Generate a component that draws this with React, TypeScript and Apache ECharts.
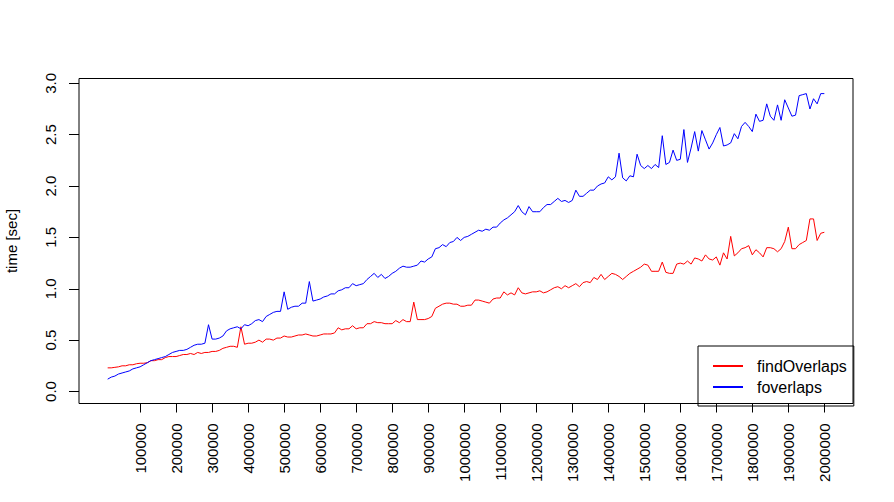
import React, { useEffect, useRef } from 'react';
import * as echarts from 'echarts';

// input sizes: 10000 .. 2000000 in steps of 10000
const sizes: number[] = Array.from({ length: 200 }, (_, i) => (i + 1) * 10000);

const findOverlaps: number[] = [
  0.23, 0.23, 0.235, 0.24, 0.25, 0.25, 0.26, 0.26, 0.27, 0.275,
  0.275, 0.28, 0.3, 0.3, 0.31, 0.31, 0.33, 0.34, 0.34, 0.34,
  0.35, 0.36, 0.36, 0.37, 0.36, 0.38, 0.37, 0.38, 0.38, 0.39,
  0.39, 0.4, 0.42, 0.43, 0.44, 0.44, 0.43, 0.63, 0.46, 0.47,
  0.47, 0.48, 0.5, 0.48, 0.51, 0.51, 0.5, 0.52, 0.52, 0.54,
  0.53, 0.53, 0.54, 0.55, 0.55, 0.56, 0.55, 0.54, 0.54, 0.55,
  0.56, 0.56, 0.56, 0.57, 0.62, 0.6, 0.61, 0.61, 0.64, 0.61,
  0.62, 0.62, 0.66, 0.66, 0.68, 0.67, 0.67, 0.66, 0.66, 0.66,
  0.69, 0.67, 0.7, 0.68, 0.68, 0.87, 0.7, 0.7, 0.7, 0.71,
  0.73, 0.81, 0.83, 0.85, 0.86, 0.86, 0.85, 0.85, 0.83, 0.83,
  0.84, 0.84, 0.89, 0.89, 0.88, 0.87, 0.86, 0.9, 0.91, 0.91,
  0.97, 0.94, 0.96, 0.94, 1.01, 0.96, 0.95, 0.96, 0.97, 0.97,
  0.98, 0.96, 0.97, 0.99, 1.01, 1.02, 1.0, 1.03, 1.01, 1.03,
  1.05, 1.02, 1.06, 1.07, 1.06, 1.11, 1.09, 1.14, 1.09, 1.12,
  1.15, 1.14, 1.12, 1.09, 1.12, 1.15, 1.17, 1.19, 1.21, 1.24,
  1.23, 1.17, 1.17, 1.17, 1.26, 1.16, 1.15, 1.15, 1.24, 1.25,
  1.24, 1.27, 1.24, 1.3, 1.29, 1.27, 1.33, 1.29, 1.28, 1.31,
  1.23, 1.35, 1.29, 1.51, 1.32, 1.35, 1.39, 1.4, 1.42, 1.33,
  1.38, 1.35, 1.31, 1.4, 1.4, 1.39, 1.36, 1.39, 1.46, 1.6,
  1.39, 1.39, 1.43, 1.45, 1.47, 1.68, 1.68, 1.47, 1.54, 1.55,
];

const foverlaps: number[] = [
  0.12, 0.14, 0.15, 0.17, 0.18, 0.19, 0.2, 0.22, 0.23, 0.24,
  0.26, 0.28, 0.3, 0.31, 0.32, 0.33, 0.34, 0.36, 0.38, 0.39,
  0.4, 0.4, 0.41, 0.43, 0.45, 0.46, 0.46, 0.47, 0.65, 0.51,
  0.51, 0.52, 0.54, 0.59, 0.61, 0.62, 0.63, 0.61, 0.65, 0.64,
  0.66, 0.69, 0.7, 0.68, 0.73, 0.75, 0.77, 0.78, 0.78, 0.97,
  0.8, 0.82, 0.83, 0.83, 0.86, 0.86, 1.07, 0.88, 0.89, 0.9,
  0.92, 0.93, 0.95, 0.95, 0.98, 0.99, 1.01, 1.01, 1.05, 1.03,
  1.04, 1.05, 1.09, 1.12, 1.15, 1.11, 1.14, 1.1, 1.12, 1.15,
  1.17, 1.2, 1.22, 1.21, 1.21, 1.22, 1.23, 1.27, 1.26, 1.29,
  1.31, 1.39, 1.4, 1.43, 1.41, 1.45, 1.46, 1.5, 1.47, 1.5,
  1.51, 1.53, 1.55, 1.57, 1.56, 1.58, 1.57, 1.6, 1.6, 1.64,
  1.67, 1.69, 1.72, 1.75, 1.81, 1.75, 1.72, 1.8, 1.75, 1.75,
  1.75, 1.79, 1.82, 1.82, 1.85, 1.88, 1.85, 1.86, 1.84, 1.86,
  1.96, 1.9, 1.9, 1.93, 1.96, 1.96, 2.0, 2.02, 2.03, 2.09,
  2.06, 2.09, 2.32, 2.08, 2.05, 2.1, 2.09, 2.31, 2.2, 2.17,
  2.2, 2.17, 2.21, 2.18, 2.49, 2.21, 2.23, 2.35, 2.25, 2.26,
  2.55, 2.23, 2.37, 2.53, 2.34, 2.54, 2.45, 2.36, 2.42, 2.5,
  2.57, 2.39, 2.4, 2.42, 2.51, 2.46, 2.58, 2.62, 2.58, 2.53,
  2.7, 2.63, 2.64, 2.8, 2.68, 2.64, 2.79, 2.64, 2.84, 2.76,
  2.68, 2.69, 2.88, 2.89, 2.9, 2.75, 2.85, 2.8, 2.9, 2.9,
];

const xTicks: number[] = [
  100000, 200000, 300000, 400000, 500000, 600000, 700000, 800000, 900000, 1000000,
  1100000, 1200000, 1300000, 1400000, 1500000, 1600000, 1700000, 1800000, 1900000, 2000000,
];
const yTicks: number[] = [0, 0.5, 1, 1.5, 2, 2.5, 3];

const FONT = '"Liberation Sans", Arial, Helvetica, sans-serif';

const App: React.FC = () => {
  const chartRef = useRef<HTMLDivElement>(null);

  useEffect(() => {
    document.body.style.margin = '0';
    if (!chartRef.current) return;
    const chart = echarts.init(chartRef.current, null, { renderer: 'svg' });

    const option = {
      animation: false,
      backgroundColor: '#fff',
      textStyle: { fontFamily: FONT },
      grid: {
        left: 79,
        top: 78.5,
        width: 774,
        height: 325,
        show: true,
        borderColor: '#000',
        borderWidth: 1,
        backgroundColor: 'transparent',
        outerBoundsMode: 'none',
        containLabel: false,
      },
      legend: {
        left: 698,
        top: 346,
        orient: 'vertical',
        borderColor: '#000',
        borderWidth: 1,
        borderRadius: 0,
        padding: [12, 7, 11, 15],
        itemWidth: 30,
        itemHeight: 2,
        itemGap: 5,
        icon: 'rect',
        textStyle: { fontSize: 16, color: '#000', fontFamily: FONT, padding: [0, 0, 0, 9], lineHeight: 14 },
        data: ['findOverlaps', 'foverlaps'],
      },
      xAxis: {
        type: 'value',
        min: -69600,
        max: 2079600,
        axisLine: { show: false, onZero: false },
        splitLine: { show: false },
        axisTick: {
          show: true,
          length: 9,
          customValues: xTicks,
          lineStyle: { color: '#000' },
        },
        axisLabel: {
          customValues: xTicks,
          rotate: 90,
          margin: 20,
          fontSize: 15,
          color: '#000',
          fontFamily: FONT,
          formatter: (v: number) => String(v),
        },
      },
      yAxis: {
        type: 'value',
        min: -0.117,
        max: 3.047,
        name: 'time [sec]',
        nameLocation: 'middle',
        nameRotate: 90,
        nameGap: 60,
        nameTextStyle: { fontSize: 15, color: '#000', fontFamily: FONT },
        axisLine: { show: false, onZero: false },
        splitLine: { show: false },
        axisTick: {
          show: true,
          length: 10,
          customValues: yTicks,
          lineStyle: { color: '#000' },
        },
        axisLabel: {
          customValues: yTicks,
          rotate: 90,
          margin: 21,
          fontSize: 15,
          color: '#000',
          fontFamily: FONT,
          formatter: (v: number) => v.toFixed(1),
        },
      },
      series: [
        {
          name: 'findOverlaps',
          type: 'line',
          data: sizes.map((s, i) => [s, findOverlaps[i]]),
          showSymbol: false,
          color: '#ff0000',
          lineStyle: { width: 1, color: '#ff0000' },
        },
        {
          name: 'foverlaps',
          type: 'line',
          data: sizes.map((s, i) => [s, foverlaps[i]]),
          showSymbol: false,
          color: '#0000ff',
          lineStyle: { width: 1, color: '#0000ff' },
        },
      ],
    };

    chart.setOption(option as any);
    return () => {
      chart.dispose();
    };
  }, []);

  return <div ref={chartRef} style={{ width: 894, height: 502 }} />;
};

export default App;
